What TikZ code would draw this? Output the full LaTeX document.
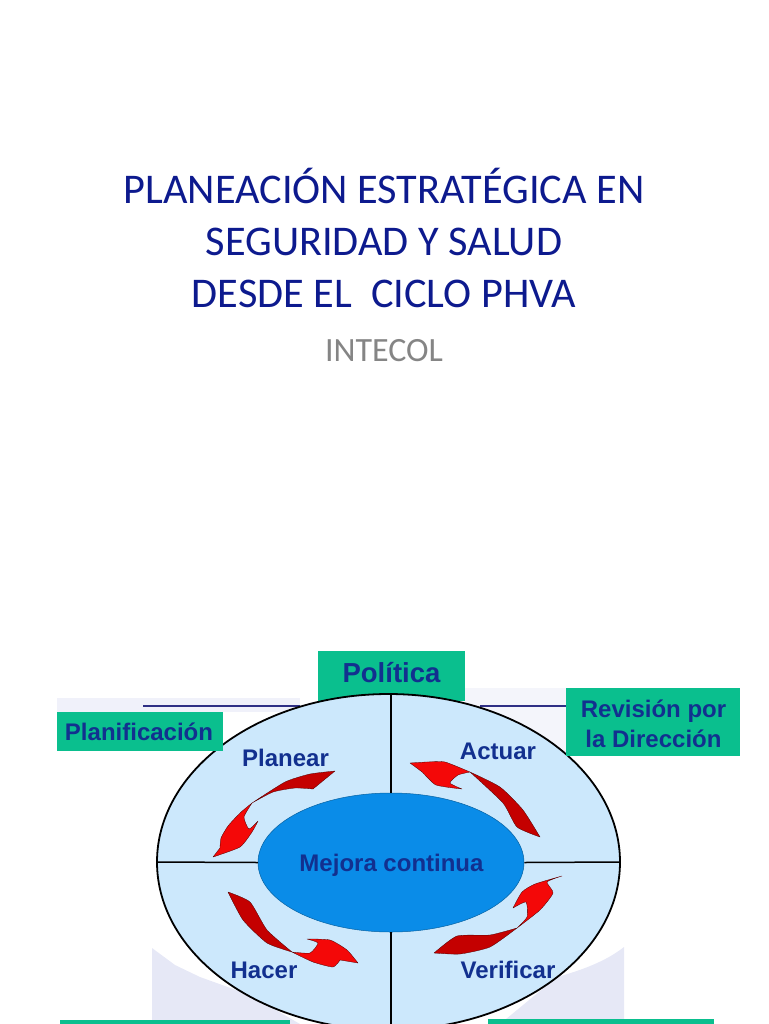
\documentclass[tikz,border=0pt]{standalone}
\usepackage{fontspec}
\setmainfont{Carlito}
\newfontfamily\labelfont{Liberation Sans}
\usetikzlibrary{shapes.geometric}
\definecolor{titleblue}{HTML}{0D1A8E}
\definecolor{labelblue}{HTML}{12308F}
\definecolor{boxgreen}{HTML}{0ABF8E}
\definecolor{ringblue}{HTML}{CCE8FC}
\definecolor{coreblue}{HTML}{0A8CE8}
\definecolor{linkblue}{HTML}{2F2F85}
\definecolor{patchblue}{HTML}{E6E8F6}
\definecolor{darkred}{HTML}{C40000}
\definecolor{brightred}{HTML}{F40808}
\begin{document}
\begin{tikzpicture}[
  x=1pt, y=-1pt,
  tag/.style={rectangle, fill=boxgreen, inner sep=0pt},
  phase/.style={text=labelblue, align=center, font=\labelfont\bfseries\fontsize{24}{30}\selectfont},
  tail/.style={fill=darkred, draw=black!70!red, line width=0.3pt, line join=round},
  head/.style={fill=brightred, draw=black!70!red, line width=0.3pt, line join=round}
]
\useasboundingbox (0,0) rectangle (768,1024);

% Title
\node[text=titleblue, align=center, font=\fontsize{42.3}{52}\selectfont] (title) at (384,238) {PLANEACIÓN ESTRATÉGICA EN\\SEGURIDAD Y SALUD\\DESDE EL\ \ CICLO PHVA};
\node[text=black!48, font=\fontsize{34}{40}\selectfont] (intecol) at (384,351) {INTECOL};

% Faint patches behind the diagram
\fill[patchblue!60] (57,698) rectangle (300,712);
\fill[patchblue] (152,948) -- (175,965) -- (200,977) -- (250,995) -- (300,1024) -- (152,1024) -- cycle;
\fill[patchblue] (500,1024) -- (557,977) .. controls (590,968) and (610,958) .. (624,947) -- (624,1024) -- cycle;
\fill[patchblue!45] (465,688) rectangle (566,757);

% Boxes behind the ring
\node[tag, minimum width=147, minimum height=50] (politica) at (391.5,676) {};
\coordinate (planlink) at (143,706);
\node[tag, minimum width=174, minimum height=68] (revision) at (653,722) {};
\draw[linkblue, line width=2pt] (planlink) -- (300,706);
\draw[linkblue, line width=2pt] (revision.west |- planlink) -- (480,706);

% Ring and core
\node[ellipse, draw=black, line width=1.8pt, fill=ringblue, minimum width=463, minimum height=336, inner sep=0pt] (ring) at (388.5,862) {};
\node[ellipse, draw=coreblue!70!black, line width=0.5pt, fill=coreblue, minimum width=266, minimum height=139, inner sep=0pt] (core) at (391,862.5) {};
\draw[line width=1.5pt] (ring.west) -- (core.west);
\draw[line width=1.5pt] (core.east) -- (ring.east);
\draw[line width=1.5pt] (ring.north -| core.north) -- (core.north);
\draw[line width=1.5pt] (core.south) -- (ring.south -| core.south);

% Boxes over the ring
\node[tag, minimum width=166, minimum height=39] (planificacion) at (140,731.5) {};
\node[tag, minimum width=174, minimum height=68] at (revision) {};
\node[tag, minimum width=230, minimum height=12] (boxleft) at (175,1026) {};
\node[tag, minimum width=226, minimum height=12] (boxright) at (601,1025) {};

% Labels
\node[phase, font=\labelfont\bfseries\fontsize{27.5}{32}\selectfont] (politicatext) at (391.5,672.5) {Política};
\node[phase] (planificaciontext) at (139,731.5) {Planificación};
\node[phase] (revisiontext) at (653.5,724) {Revisión por\\la Dirección};
\node[phase] (mejora) at (391.5,865) {Mejora continua};
\node[phase] (planear) at (285.5,758) {Planear};
\node[phase] (actuar) at (498,751) {Actuar};
\node[phase] (hacer) at (264,970) {Hacer};
\node[phase] (verificar) at (508,970) {Verificar};

% Arrow Planear
\draw[tail] plot[smooth, tension=.35] coordinates {(335,771) (310,774) (285,782) (252,803)} -- plot[smooth, tension=.35] coordinates {(252,803) (273,792) (295,788) (313,789)} -- cycle;
\draw[head] plot[smooth, tension=.35] coordinates {(252,803) (240,813) (228,826) (221,838) (220,848)} -- (213,857) -- plot[smooth, tension=.35] coordinates {(213,857) (240,847) (252,832) (258,821)} -- plot[smooth, tension=.35] coordinates {(258,821) (249,829) (244,817) (252,803)} -- cycle;

% Arrow Hacer
\draw[tail] plot[smooth, tension=.35] coordinates {(228,892) (250,902) (267,930) (292,952)} -- plot[smooth, tension=.35] coordinates {(292,952) (267,943) (243,920) (228,892)} -- cycle;
\draw[head] plot[smooth, tension=.35] coordinates {(292,952) (310,953) (318,943) (307,939)} -- plot[smooth, tension=.35] coordinates {(307,939) (330,940) (347,950) (358,963)} -- (340,960) -- plot[smooth, tension=.35] coordinates {(340,960) (333,967) (313,962) (292,952)} -- cycle;

% Arrow Actuar
\draw[head] plot[smooth, tension=.35] coordinates {(410,763) (427,762) (445,762) (470,772)} -- plot[smooth, tension=.35] coordinates {(470,772) (458,775) (450,783) (462,789)} -- plot[smooth, tension=.35] coordinates {(462,789) (436,785) (422,772) (410,763)} -- cycle;
\draw[tail] plot[smooth, tension=.35] coordinates {(470,772) (500,787) (523,810) (540,837)} -- plot[smooth, tension=.35] coordinates {(540,837) (517,827) (503,803) (470,772)} -- cycle;

% Arrow Verificar
\draw[head] plot[smooth, tension=.35] coordinates {(562,876) (547,882) (553,893) (540,910) (517,928)} -- plot[smooth, tension=.35] coordinates {(517,928) (527,917) (526,902) (513,908)} -- plot[smooth, tension=.35] coordinates {(513,908) (522,892) (535,884) (562,876)} -- cycle;
\draw[tail] plot[smooth, tension=.35] coordinates {(517,928) (490,947) (460,954) (434,953)} -- plot[smooth, tension=.35] coordinates {(434,953) (457,936) (490,935) (517,928)} -- cycle;
\end{tikzpicture}
\end{document}
